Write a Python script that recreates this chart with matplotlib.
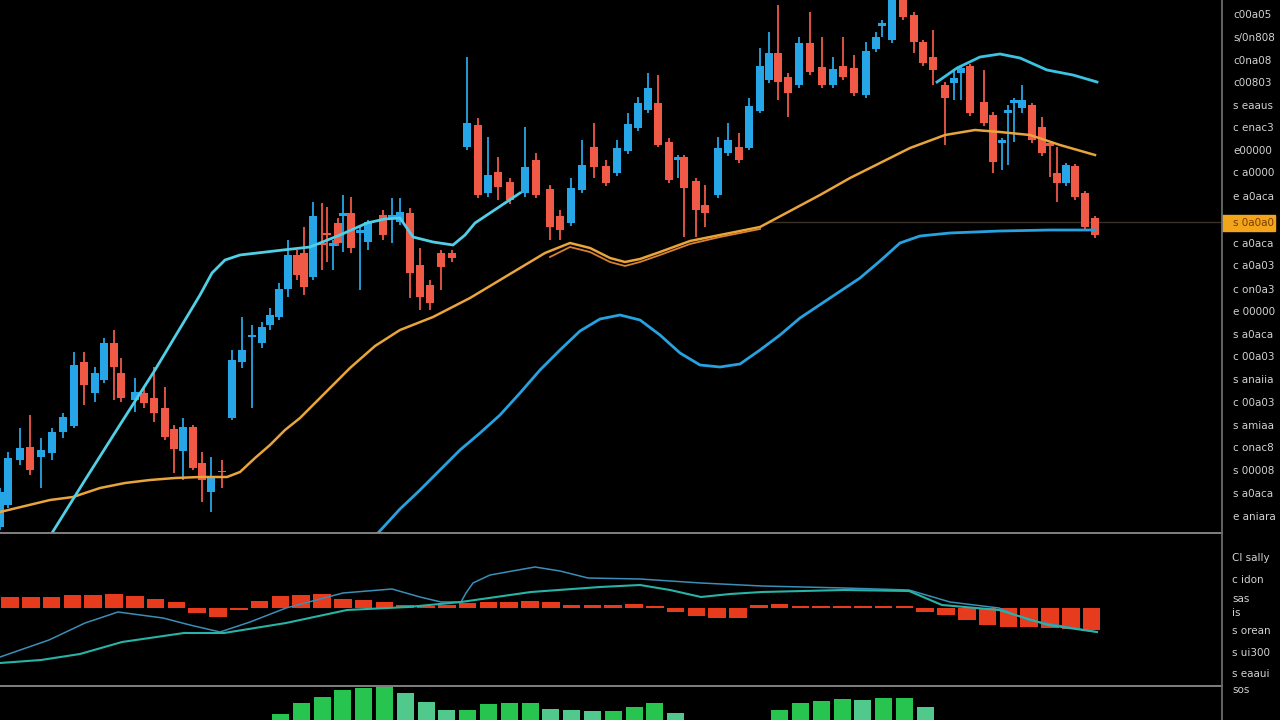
import numpy as np
import matplotlib
matplotlib.use("Agg")
import matplotlib.pyplot as plt
from matplotlib.lines import Line2D
from matplotlib.patches import Rectangle

# ---- candles: time, open, high, low, close
t = [0, 8, 20, 30, 41, 52, 63, 74, 84, 95, 104, 114, 121, 135, 144, 154, 165, 174, 183, 193,
     202, 211, 222, 232, 242, 252, 262, 270, 279, 288, 297, 304, 313, 322, 327, 333, 338, 343, 351, 360,
     368, 383, 392, 400, 410, 420, 430, 441, 452, 467, 478, 488, 498, 510, 525, 536, 550, 560, 571, 582,
     594, 606, 617, 628, 638, 648, 658, 669, 678, 684, 696, 705, 718, 728, 739, 749, 760, 769, 778, 788,
     799, 810, 822, 833, 843, 854, 866, 876, 882, 892, 903, 914, 923, 933, 945, 954, 961, 970, 984, 993,
     1002, 1008, 1014, 1022, 1032, 1042, 1050, 1057, 1066, 1075, 1085, 1095]
o = [6, 28, 73, 86, 76, 80, 101, 107, 171, 140, 153, 190, 160, 133, 140, 135, 125, 104, 82, 106,
     70, 41, 62, 115, 171, 196, 190, 208, 216, 244, 278, 280, 256, 290, 300, 287, 310, 317, 320, 300,
     291, 318, 315, 311, 320, 268, 248, 280, 280, 386, 408, 340, 361, 351, 340, 373, 344, 317, 310, 343,
     386, 367, 360, 382, 405, 423, 430, 391, 373, 376, 352, 328, 338, 380, 386, 385, 422, 453, 480, 456,
     448, 490, 466, 448, 467, 465, 438, 484, 507, 493, 535, 518, 491, 476, 448, 450, 460, 467, 431, 418,
     390, 420, 430, 425, 428, 406, 390, 360, 350, 367, 340, 315]
h = [45, 81, 105, 118, 95, 105, 120, 181, 181, 166, 195, 203, 175, 155, 145, 166, 146, 108, 115, 108,
     81, 76, 73, 183, 216, 208, 211, 225, 250, 293, 283, 306, 331, 330, 326, 293, 315, 338, 336, 306,
     313, 323, 335, 335, 325, 285, 253, 283, 283, 476, 415, 396, 376, 355, 406, 380, 348, 323, 355, 393,
     410, 373, 393, 420, 436, 460, 458, 395, 378, 378, 355, 348, 396, 410, 400, 435, 485, 501, 528, 460,
     496, 521, 496, 476, 496, 478, 491, 501, 513, 538, 538, 521, 493, 503, 451, 463, 467, 469, 463, 421,
     395, 428, 435, 448, 430, 416, 390, 386, 370, 369, 342, 317]
l = [3, 25, 68, 58, 45, 73, 95, 105, 128, 131, 150, 133, 131, 121, 125, 111, 93, 60, 53, 63,
     31, 21, 45, 113, 165, 125, 185, 203, 213, 236, 253, 238, 253, 263, 271, 263, 287, 281, 280, 243,
     283, 293, 290, 308, 235, 223, 223, 243, 271, 383, 335, 336, 333, 329, 336, 335, 293, 293, 307, 340,
     355, 347, 357, 379, 402, 420, 386, 350, 355, 296, 296, 306, 335, 377, 370, 383, 420, 450, 433, 416,
     445, 458, 445, 445, 453, 437, 435, 481, 496, 490, 513, 480, 467, 448, 388, 433, 433, 417, 407, 360,
     363, 368, 391, 420, 390, 377, 356, 331, 347, 333, 303, 295]
c = [41, 75, 85, 63, 83, 101, 116, 168, 148, 160, 190, 166, 135, 141, 130, 120, 96, 84, 106, 65,
     53, 55, 61, 173, 183, 198, 206, 218, 244, 278, 258, 246, 317, 288, 298, 290, 290, 320, 285, 303,
     311, 298, 318, 321, 260, 236, 230, 266, 275, 410, 338, 358, 346, 333, 366, 338, 306, 303, 345, 368,
     366, 350, 385, 409, 430, 445, 388, 353, 376, 345, 323, 320, 385, 393, 373, 427, 467, 480, 451, 440,
     490, 461, 448, 464, 456, 440, 482, 496, 510, 533, 516, 491, 470, 463, 435, 455, 465, 420, 410, 371,
     393, 423, 433, 433, 393, 380, 387, 350, 368, 336, 306, 298]

# ---- overlay lines on price panel
ma_t = [0, 25, 50, 73, 100, 125, 150, 175, 200, 227, 240, 255, 270, 285, 300, 325, 350, 375, 400, 433,
        470, 495, 520, 545, 570, 590, 610, 625, 640, 660, 690, 720, 760, 790, 820, 850, 880, 910, 945,
        975, 1000, 1030, 1060, 1095]
ma_v = [21, 27, 33, 36, 45, 50, 53, 55, 56, 56, 61, 75, 88, 103, 115, 140, 165, 187, 203, 216,
        235, 250, 265, 280, 290, 285, 275, 271, 274, 281, 292, 298, 306, 322, 338, 355, 370, 385, 398,
        403, 401, 398, 388, 378]
ma2_t = [550, 570, 590, 610, 625, 640, 660, 690, 720, 760]
ma2_v = [276, 286, 281, 271, 267, 271, 278, 289, 296, 304]
up_t = [52, 85, 123, 155, 185, 200, 212, 225, 240, 283, 310, 340, 367, 385, 400, 413, 433, 453, 465,
        475, 490, 505, 520]
up_v = [0, 53, 113, 163, 213, 238, 260, 273, 278, 283, 286, 298, 310, 314, 315, 296, 291, 288, 298,
        310, 320, 330, 340]
up2_t = [937, 957, 980, 1000, 1020, 1047, 1073, 1097]
up2_v = [451, 465, 476, 479, 475, 463, 458, 451]
lo_t = [378, 400, 420, 440, 460, 480, 500, 520, 540, 560, 580, 600, 620, 640, 660, 680, 700, 720, 740,
        760, 780, 800, 830, 860, 880, 900, 920, 950, 1000, 1050, 1095]
lo_v = [0, 24, 43, 63, 83, 100, 118, 140, 163, 183, 202, 214, 218, 213, 198, 180, 168, 166, 169,
        183, 198, 215, 235, 255, 272, 290, 297, 300, 302, 303, 303]
last_price = 311

# ---- MACD panel
hist = [11, 11, 11, 13, 13, 14, 12, 9, 6, -5, -9, -2, 7, 12, 13, 14, 9, 8, 6, 3,
        2, 3, 5, 6, 6, 7, 6, 3, 3, 3, 4, 2, -4, -8, -10, -10, 3, 4, 2, 2,
        2, 2, 2, 2, -4, -7, -12, -17, -19, -19, -20, -21, -22]
macd_t = [0, 49, 85, 118, 163, 190, 220, 250, 286, 343, 392, 420, 441, 461, 466, 473, 490, 535, 560,
          588, 640, 701, 762, 844, 909, 950, 999, 1028, 1097]
macd_v = [-49, -32, -15, -4, -10, -17, -24, -14, 0, 15, 19, 11, 6, 6, 15, 25, 33, 41, 37,
          30, 29, 25, 22, 20, 18, 6, 0, -12, -24]
sig_t = [0, 41, 80, 122, 184, 224, 286, 347, 408, 461, 531, 600, 640, 670, 701, 730, 762, 844, 909,
         942, 999, 1048, 1097]
sig_v = [-55, -52, -46, -34, -25, -25, -15, -2, 1, 6, 16, 21, 23, 18, 11, 14, 16, 18, 17,
         3, -2, -17, -24]

# ---- volume panel (bars 13..44 of the histogram grid)
vol = [6, 17, 23, 30, 32, 33, 27, 18, 10, 10, 16, 17, 17, 11, 10, 9, 9, 13, 17, 7,
       0, 0, 0, 0, 10, 17, 19, 21, 20, 22, 22, 13]
vol_start = 13

# ---- axis labels (as printed in the picture)
price_labels = ["c00a05", "s/0n808", "c0na08", "c00803", "s eaaus", "c enac3", "e00000", "c a0000",
                "e a0aca", "c a0aca", "c a0a03", "c on0a3", "e 00000", "s a0aca", "c 00a03", "s anaiia",
                "c 00a03", "s amiaa", "c onac8", "s 00008", "s a0aca", "e aniara"]
price_label_y = [15, 38, 61, 83, 106, 128, 151, 173, 197, 244, 266, 290, 312, 335, 357, 380, 403, 426,
                 448, 471, 494, 517]
tag_label = "s 0a0a0"
macd_labels = ["CI sally", "c idon", "sas", "is", "s orean", "s ui300", "s eaaui", "sos"]
macd_label_y = [558, 580, 599, 613, 631, 653, 674, 690]

UP, DOWN = "#26a6e6", "#ef5946"

fig = plt.figure(figsize=(12.8, 7.2), dpi=100, facecolor="black")
W, H = 1280.0, 720.0
ax = fig.add_axes([0, 187 / H, 1222 / W, 533 / H])
ax_m = fig.add_axes([0, 34 / H, 1222 / W, 153 / H])
ax_v = fig.add_axes([0, 0, 1222 / W, 34 / H])
for a in (ax, ax_m, ax_v):
    a.set_facecolor("black")
    a.set_axis_off()
    a.set_xlim(0, 1222)
ax.set_ylim(0, 533)
ax_m.set_ylim(-78, 75)
ax_v.set_ylim(0, 34)

# candles
o, h, l, c = map(np.array, (o, h, l, c))
cols = [UP if cc >= oo else DOWN for oo, cc in zip(o, c)]
ax.vlines(t, l, h, colors=cols, lw=1.3, zorder=3)
ax.bar(t, np.maximum(np.abs(c - o), 1.5), bottom=np.minimum(o, c), width=8.5,
       color=cols, zorder=4, linewidth=0)

ax.axhline(last_price, xmin=770 / 1222, xmax=1, color="#3a3128", lw=1, zorder=1)
ax.plot(ma_t, ma_v, color="#e9a53c", lw=1.8, zorder=5)
ax.plot(ma2_t, ma2_v, color="#d98030", lw=1.3, zorder=5)
ax.plot(up_t, up_v, color="#50d0e6", lw=2, zorder=5)
ax.plot(up2_t, up2_v, color="#3cc3e3", lw=2, zorder=5)
ax.plot(lo_t, lo_v, color="#27a2e0", lw=2, zorder=5)

# MACD
hist_t = 10 + 20.8 * np.arange(len(hist))
ax_m.bar(hist_t, hist, width=17.5, color="#e63b1d", linewidth=0, zorder=2)
ax_m.plot(macd_t, macd_v, color="#3a8fb8", lw=1.1, zorder=3)
ax_m.plot(sig_t, sig_v, color="#27b3a6", lw=1.5, zorder=3)

# volume
vol_t = hist_t[vol_start:vol_start + len(vol)]
vcols = ["#27c44f"] + ["#52c98c" if vol[i] < vol[i - 1] else "#27c44f" for i in range(1, len(vol))]
ax_v.bar(vol_t, vol, width=17, color=vcols, linewidth=0)

# separators
sep = "#8a8a8a"
fig.add_artist(Line2D([0, 1222 / W], [1 - 533 / H] * 2, color=sep, lw=1.3))
fig.add_artist(Line2D([0, 1222 / W], [1 - 686 / H] * 2, color=sep, lw=1.3))
fig.add_artist(Line2D([1222 / W] * 2, [0, 1], color="#6a6a6a", lw=1.3))

for s, y in zip(price_labels, price_label_y):
    fig.text(1233 / W, 1 - y / H, s, color="#d2d2d2", fontsize=7.5, va="center", ha="left")
fig.add_artist(Rectangle((1222 / W, 1 - 231 / H), 53 / W, 16 / H, color="#f2a51a",
                         transform=fig.transFigure))
fig.text(1233 / W, 1 - 223 / H, tag_label, color="#7a3a00", fontsize=7.5, va="center", ha="left")
for s, y in zip(macd_labels, macd_label_y):
    fig.text(1232 / W, 1 - y / H, s, color="#d2d2d2", fontsize=7.5, va="center", ha="left")

fig.savefig("out.png", dpi=100, facecolor="black")
